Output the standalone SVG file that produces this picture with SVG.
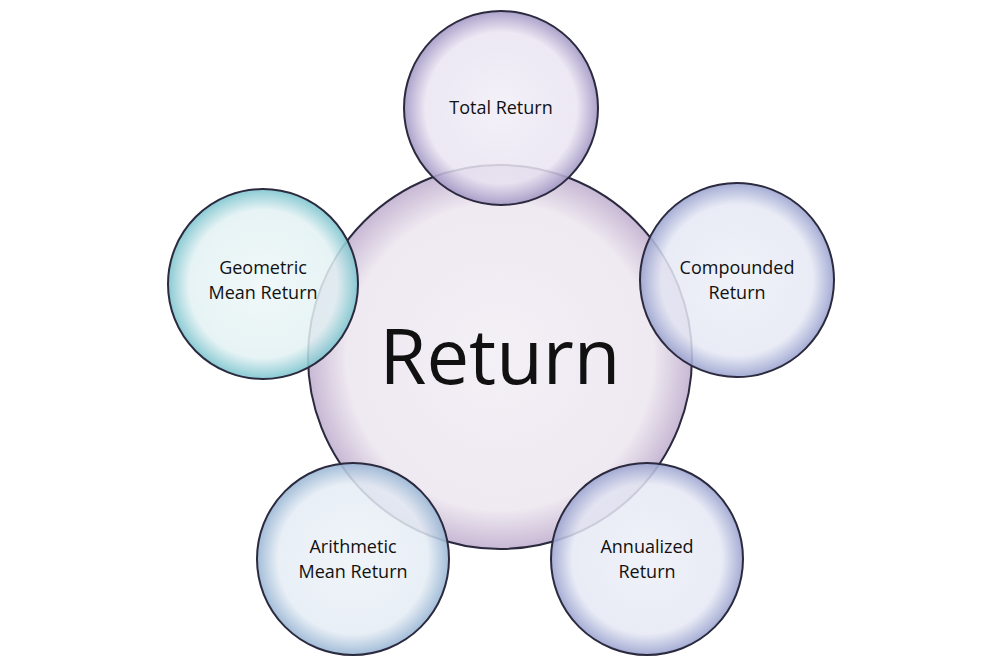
<svg xmlns="http://www.w3.org/2000/svg" width="1002" height="669" viewBox="0 0 1002 669">
<defs>
<radialGradient id="gc" cx="0.5" cy="0.5" r="0.5"><stop offset="0" stop-color="#f3f0f6"/><stop offset="0.8" stop-color="#efe9f1"/><stop offset="1" stop-color="#c7b8d4"/></radialGradient>
<radialGradient id="gp" cx="0.5" cy="0.5" r="0.5"><stop offset="0" stop-color="#f1eef7" stop-opacity="0.85"/><stop offset="0.78" stop-color="#e9e4f2" stop-opacity="0.85"/><stop offset="1" stop-color="#a297c4" stop-opacity="0.9"/></radialGradient>
<radialGradient id="gb" cx="0.5" cy="0.5" r="0.5"><stop offset="0" stop-color="#eef0f8" stop-opacity="0.85"/><stop offset="0.78" stop-color="#e5e8f4" stop-opacity="0.85"/><stop offset="1" stop-color="#9aa3cf" stop-opacity="0.9"/></radialGradient>
<radialGradient id="gl" cx="0.5" cy="0.5" r="0.5"><stop offset="0" stop-color="#eef3f8" stop-opacity="0.85"/><stop offset="0.78" stop-color="#e4ecf4" stop-opacity="0.85"/><stop offset="1" stop-color="#98b5d4" stop-opacity="0.9"/></radialGradient>
<radialGradient id="gt" cx="0.5" cy="0.5" r="0.5"><stop offset="0" stop-color="#eef7f8" stop-opacity="0.85"/><stop offset="0.78" stop-color="#e2f1f3" stop-opacity="0.85"/><stop offset="1" stop-color="#7cc4ce" stop-opacity="0.9"/></radialGradient>
</defs>
<style>
circle{stroke:#2b2a3e;stroke-width:2}
text{font-family:"Open Sans","Liberation Sans",sans-serif;font-size:18px;fill:#111;text-anchor:middle}
.big{font-size:76px}
</style>
<rect width="1002" height="669" fill="#fff"/>
<g id="connectors"/>
<g id="center"><circle cx="500" cy="357" r="192" fill="url(#gc)"/><text class="big" x="500" y="384">Return</text></g>
<g id="total"><circle cx="501" cy="108" r="97" fill="url(#gp)"/><text x="501" y="114">Total Return</text></g>
<g id="compounded"><circle cx="737" cy="280" r="97" fill="url(#gb)"/><text x="737" y="274">Compounded</text><text x="737" y="299">Return</text></g>
<g id="geometric"><circle cx="263" cy="284" r="95" fill="url(#gt)"/><text x="263" y="274">Geometric</text><text x="263" y="299">Mean Return</text></g>
<g id="arithmetic"><circle cx="353" cy="559" r="96" fill="url(#gl)"/><text x="353" y="553">Arithmetic</text><text x="353" y="578">Mean Return</text></g>
<g id="annualized"><circle cx="647" cy="559" r="96" fill="url(#gb)"/><text x="647" y="553">Annualized</text><text x="647" y="578">Return</text></g>
</svg>
